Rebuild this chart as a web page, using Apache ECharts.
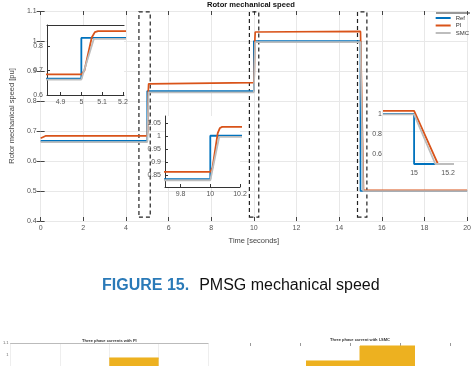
<!DOCTYPE html>
<html><head><meta charset="utf-8">
<script src="https://cdn.jsdelivr.net/npm/echarts@6/dist/echarts.min.js"></script>
<style>html,body{margin:0;padding:0;background:#fff}#c{width:474px;height:366px}</style>
</head><body><div id="c"></div>
<script>
// ---- data ----
const tRef = [0, 5, 5, 10, 10, 15, 15, 20];
const vRef = [0.667, 0.667, 0.833, 0.833, 1.0, 1.0, 0.5, 0.5];
const tPI = [0, 0.25, 5.0, 5.015, 5.05, 5.065, 5.08, 10.0, 10.015, 10.05, 10.065, 10.08, 15.0, 15.14, 20];
const vPI = [0.676, 0.684, 0.684, 0.700, 0.835, 0.857, 0.861, 0.861, 0.878, 1.010, 1.030, 1.034, 1.032, 0.502, 0.502];
const tSMC = [0, 5.0, 5.06, 10.0, 10.06, 15.0, 15.125, 20];
const vSMC = [0.663, 0.663, 0.829, 0.829, 0.996, 0.996, 0.5, 0.5];
const seriesNames = ['Ref', 'PI', 'SMC'];
const zoomBoxT = [[4.61, 5.14], [9.79, 10.23], [14.86, 15.30]];
const zoomBoxV = [0.413, 1.097];
// inset ranges and tick labels
const in1X = [4.835, 5.205], in1Y = [0.6, 0.886];
const in1XTicks = [4.9, 5, 5.1, 5.2], in1YTicks = [0.6, 0.7, 0.8];
const in2X = [9.695, 10.2], in2Y = [0.803, 1.076];
const in2XTicks = [9.8, 10, 10.2], in2YTicks = [0.85, 0.9, 0.95, 1, 1.05];
const in3X = [14.823, 15.223], in3Y = [0.48, 1.06];
const in3XTicks = [15, 15.2], in3YTicks = [0.6, 0.8, 1];
// partial figures below the caption
const miniLeftT = [10, 15], miniLeftV = [0.975, 0.975];
const miniLeftYTicks = [1, 1.1];
const miniRightT = [5.6, 11, 11, 16.5], miniRightV = [1.05, 1.05, 1.175, 1.175];

const colors = ['#0072BD', '#D95319', '#BDBDBD'];
const pairs = (t, v) => t.map((x, i) => [x, v[i]]);
const dataSets = [pairs(tRef, vRef), pairs(tPI, vPI), pairs(tSMC, vSMC)];
const fmt = v => String(+(+v).toFixed(3));
const lab = {fontFamily: 'Liberation Sans', fontSize: 7, color: '#555'};

function insetAxes(gi, xr, yr, xt, yt, showLines) {
  const line = {show: showLines, lineStyle: {color: '#333', width: 1}};
  return {
    x: {type: 'value', gridIndex: gi, min: xr[0], max: xr[1], z: 3,
        axisLine: line, axisTick: {show: showLines, inside: true, length: 3, customValues: xt, lineStyle: {color: '#333'}},
        axisLabel: Object.assign({customValues: xt, formatter: fmt, margin: 4}, lab),
        splitLine: {show: false}},
    y: {type: 'value', gridIndex: gi, min: yr[0], max: yr[1], z: 3,
        axisLine: line, axisTick: {show: showLines, inside: true, length: 3, customValues: yt, lineStyle: {color: '#333'}},
        axisLabel: Object.assign({customValues: yt, formatter: fmt, margin: showLines ? 4 : 2}, lab),
        splitLine: {show: false}}
  };
}
const a1 = insetAxes(1, in1X, in1Y, in1XTicks, in1YTicks, true);
const a2 = insetAxes(2, in2X, in2Y, in2XTicks, in2YTicks, true);
const a3 = insetAxes(3, in3X, in3Y, in3XTicks, in3YTicks, false);

const series = [];
// main
seriesNames.forEach((n, i) => {
  const s = {name: n, type: 'line', xAxisIndex: 0, yAxisIndex: 0, data: dataSets[i], showSymbol: false,
    lineStyle: {color: colors[i], width: 1.7}, itemStyle: {color: colors[i]}, z: 2, animation: false};
  if (i === 0) {
    s.markArea = {silent: true, itemStyle: {color: 'rgba(0,0,0,0)', borderColor: '#222', borderWidth: 1.2, borderType: [4, 3]},
      data: zoomBoxT.map(b => [{xAxis: b[0], yAxis: zoomBoxV[0]}, {xAxis: b[1], yAxis: zoomBoxV[1]}])};
  }
  series.push(s);
});
// insets: x axis indices 2,3,4 / y axis indices 2,3,4
[2, 3, 4].forEach(ax => {
  seriesNames.forEach((n, i) => {
    series.push({name: n, type: 'line', xAxisIndex: ax, yAxisIndex: ax, data: dataSets[i], showSymbol: false, clip: true,
      lineStyle: {color: colors[i], width: 1.8}, itemStyle: {color: colors[i]}, z: 5, animation: false});
  });
});
// mini figures
series.push({type: 'line', xAxisIndex: 5, yAxisIndex: 5, data: pairs(miniLeftT, miniLeftV), showSymbol: false,
  lineStyle: {color: '#EDB120', width: 1}, areaStyle: {color: '#EDB120', opacity: 1, origin: 'start'}, animation: false});
series.push({type: 'line', xAxisIndex: 6, yAxisIndex: 6, data: pairs(miniRightT, miniRightV), showSymbol: false,
  lineStyle: {color: '#EDB120', width: 1}, areaStyle: {color: '#EDB120', opacity: 1, origin: 'start'}, animation: false});

const option = {
  animation: false,
  backgroundColor: '#fff',
  title: [
    {text: 'Rotor mechanical speed', left: 207, top: 1, padding: 0,
      textStyle: {fontFamily: 'Liberation Sans', fontSize: 7.6, fontWeight: 'bold', color: '#111'}},
    {text: '{a|FIGURE 15.}  {b|PMSG mechanical speed}', left: 97, top: 272,
      textStyle: {fontWeight: 'normal', rich: {a: {fontFamily: 'Liberation Sans', fontSize: 16, fontWeight: 'bold', color: '#2a7ab8'},
                         b: {fontFamily: 'Liberation Sans', fontSize: 16, fontWeight: 'normal', color: '#111'}}}},
    {text: 'Three phase currents with PI', left: 82, top: 339, padding: 0,
      textStyle: {fontFamily: 'Liberation Sans', fontSize: 4, color: '#333'}},
    {text: 'Three phase current with I-SMC', left: 330, top: 338, padding: 0,
      textStyle: {fontFamily: 'Liberation Sans', fontSize: 4, color: '#333'}}
  ],
  legend: {data: seriesNames, orient: 'vertical', right: 5, top: 15, itemWidth: 15, itemHeight: 2, itemGap: 1.5,
    icon: 'rect', textStyle: {fontFamily: 'Liberation Sans', fontSize: 6, color: '#333'}, padding: 0},
  graphic: [{type: 'line', shape: {x1: 436, y1: 13, x2: 470, y2: 13}, style: {stroke: '#333', lineWidth: 1.2}}],
  grid: [
    {left: 33, top: 11, width: 438, height: 210},
    {left: 47, top: 25, width: 77, height: 70, show: true, backgroundColor: '#fff', borderWidth: 0, z: 2},
    {left: 165, top: 116, width: 75, height: 71, show: true, backgroundColor: '#fff', borderWidth: 0, z: 2},
    {left: 384, top: 108, width: 68, height: 58},
    {left: 8, top: 343, width: 200, height: 23},
    {left: 250, top: 343, width: 200, height: 23}
  ],
  xAxis: [
    {type: 'value', gridIndex: 0, min: 0, max: 20, interval: 2, name: 'Time [seconds]', nameLocation: 'middle', nameGap: 14,
      nameTextStyle: {fontFamily: 'Liberation Sans', fontSize: 7.5, color: '#444'},
      axisLine: {show: false}, axisTick: {show: true, inside: true, length: 4, lineStyle: {color: '#444'}},
      axisLabel: Object.assign({margin: 4, formatter: fmt}, lab),
      splitLine: {show: true, lineStyle: {color: '#e8e8e8', width: 1}}},
    {type: 'value', gridIndex: 0, position: 'top', min: 0, max: 20, interval: 2,
      axisLine: {show: false}, axisTick: {show: true, inside: true, length: 4, lineStyle: {color: '#444'}},
      axisLabel: {show: false}, splitLine: {show: false}},
    a1.x, a2.x, a3.x,
    {type: 'value', gridIndex: 4, position: 'top', min: 0, max: 20, axisLine: {show: true, lineStyle: {color: '#bbb'}},
      axisTick: {show: false}, axisLabel: {show: false}, splitLine: {show: true, lineStyle: {color: '#eee'}}},
    {type: 'value', gridIndex: 5, position: 'top', min: 0, max: 20, axisLine: {show: false},
      axisTick: {show: true, inside: true, length: 3, lineStyle: {color: '#999'}}, axisLabel: {show: false}, splitLine: {show: false}}
  ],
  yAxis: [
    {type: 'value', gridIndex: 0, min: 0.4, max: 1.1, interval: 0.1, name: 'Rotor mechanical speed [pu]', nameLocation: 'middle', nameGap: 17,
      nameTextStyle: {fontFamily: 'Liberation Sans', fontSize: 7.5, color: '#444'},
      axisLine: {show: false}, axisTick: {show: true, inside: true, length: 4, lineStyle: {color: '#444'}},
      axisLabel: Object.assign({margin: 4, formatter: fmt}, lab),
      splitLine: {show: true, lineStyle: {color: '#e8e8e8', width: 1}}},
    {type: 'value', gridIndex: 0, position: 'right', min: 0.4, max: 1.1, interval: 0.1,
      axisLine: {show: false}, axisTick: {show: true, inside: true, length: 4, lineStyle: {color: '#444'}},
      axisLabel: {show: false}, splitLine: {show: false}},
    a1.y, a2.y, a3.y,
    {type: 'value', gridIndex: 4, min: 0.908, max: 1.1, axisLine: {show: false}, axisTick: {show: false},
      axisLabel: {fontSize: 4, color: '#666', margin: 2, customValues: miniLeftYTicks, formatter: fmt},
      splitLine: {show: false}},
    {type: 'value', gridIndex: 5, min: 1.008, max: 1.2, axisLine: {show: false}, axisTick: {show: false},
      axisLabel: {show: false}, splitLine: {show: false}}
  ],
  series: series
};
// top frame line of inset 1
option.xAxis.push({type: 'value', gridIndex: 1, position: 'top', min: in1X[0], max: in1X[1], z: 3,
  axisLine: {show: true, lineStyle: {color: '#333', width: 1.2}}, axisTick: {show: false}, axisLabel: {show: false}, splitLine: {show: false}});
const chart = echarts.init(document.getElementById('c'), null, {renderer: 'canvas'});
chart.setOption(option);
</script></body></html>
